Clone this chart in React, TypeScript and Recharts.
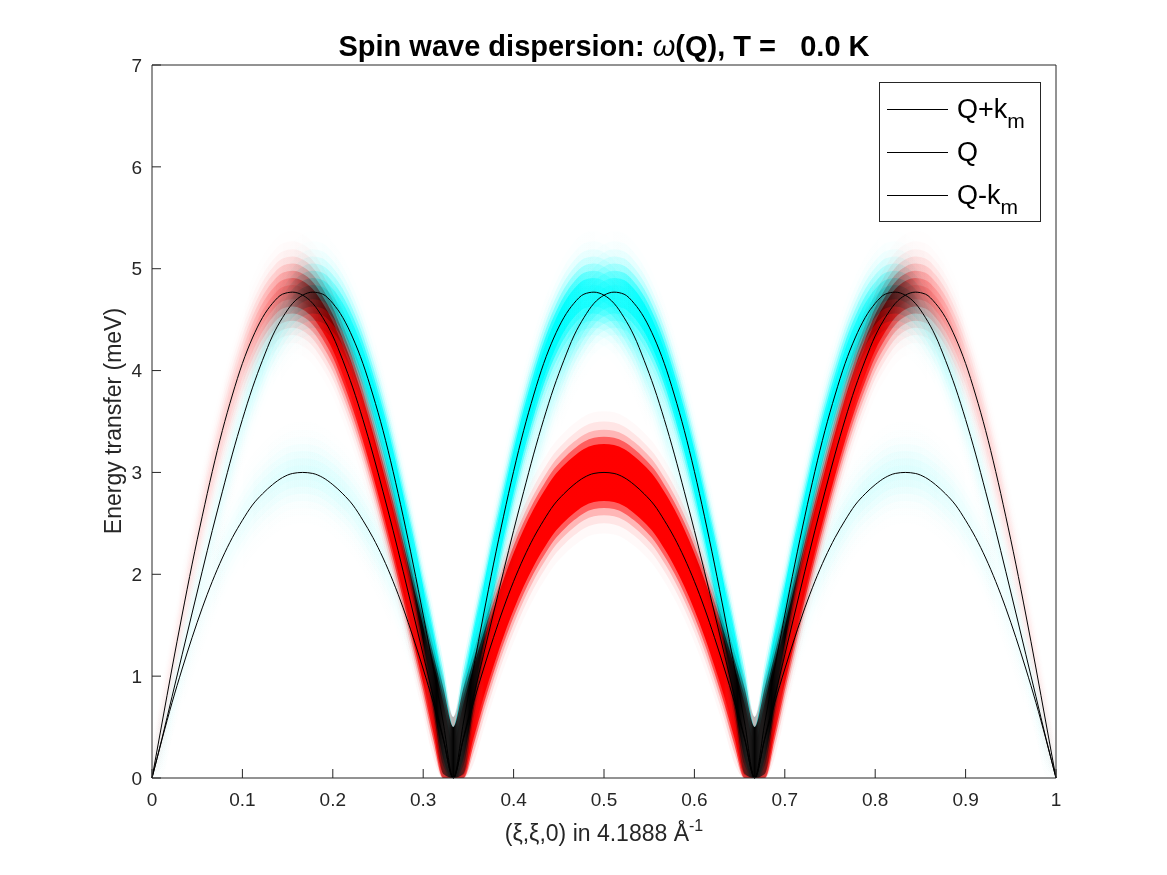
import React from "react"
import { ComposedChart, Area, Line, XAxis, YAxis } from "recharts"

const FONT = "'Liberation Sans', Arial, Helvetica, sans-serif"
const AXIS_COLOR = "#262626"

// Q along (xi, xi, 0), r.l.u.
const XI = [
	0, 0.0111, 0.0222, 0.0333, 0.0444, 0.0556, 0.0667, 0.0778, 0.0889, 0.1,
	0.1111, 0.1222, 0.1333, 0.1444, 0.1556, 0.1667, 0.1778, 0.1889, 0.2, 0.2111,
	0.2222, 0.2333, 0.2444, 0.2556, 0.2667, 0.2778, 0.2889, 0.3, 0.3111, 0.3222,
	0.3333, 0.3444, 0.3556, 0.3667, 0.3778, 0.3889, 0.4, 0.4111, 0.4222, 0.4333,
	0.4444, 0.4556, 0.4667, 0.4778, 0.4889, 0.5, 0.5111, 0.5222, 0.5333, 0.5444,
	0.5556, 0.5667, 0.5778, 0.5889, 0.6, 0.6111, 0.6222, 0.6333, 0.6444, 0.6556,
	0.6667, 0.6778, 0.6889, 0.7, 0.7111, 0.7222, 0.7333, 0.7444, 0.7556, 0.7667,
	0.7778, 0.7889, 0.8, 0.8111, 0.8222, 0.8333, 0.8444, 0.8556, 0.8667, 0.8778,
	0.8889, 0.9, 0.9111, 0.9222, 0.9333, 0.9444, 0.9556, 0.9667, 0.9778, 0.9889,
	1,
]

// energy (meV) of the three modes
const OMEGA_QPK = [
	0, 0.38, 0.74, 1.07, 1.38, 1.67, 1.93, 2.16, 2.36, 2.53,
	2.68, 2.79, 2.88, 2.95, 2.99, 3.0, 2.99, 2.95, 2.88, 2.79,
	2.68, 2.53, 2.36, 2.16, 1.93, 1.67, 1.38, 1.07, 0.74, 0.38,
	0, 0.39, 0.8, 1.21, 1.62, 2.03, 2.43, 2.81, 3.18, 3.52,
	3.83, 4.1, 4.34, 4.52, 4.66, 4.74, 4.77, 4.75, 4.66, 4.52,
	4.32, 4.07, 3.76, 3.41, 3.01, 2.57, 2.1, 1.6, 1.08, 0.54,
	0, 0.54, 1.08, 1.6, 2.1, 2.57, 3.01, 3.41, 3.76, 4.07,
	4.32, 4.52, 4.66, 4.75, 4.77, 4.74, 4.66, 4.52, 4.34, 4.1,
	3.83, 3.52, 3.18, 2.81, 2.43, 2.03, 1.62, 1.21, 0.8, 0.39,
	0,
]

const OMEGA_Q = [
	0, 0.54, 1.08, 1.6, 2.1, 2.57, 3.01, 3.41, 3.76, 4.07,
	4.32, 4.52, 4.66, 4.75, 4.77, 4.74, 4.66, 4.52, 4.34, 4.1,
	3.83, 3.52, 3.18, 2.81, 2.43, 2.03, 1.62, 1.21, 0.8, 0.39,
	0, 0.38, 0.74, 1.07, 1.38, 1.67, 1.93, 2.16, 2.36, 2.53,
	2.68, 2.79, 2.88, 2.95, 2.99, 3.0, 2.99, 2.95, 2.88, 2.79,
	2.68, 2.53, 2.36, 2.16, 1.93, 1.67, 1.38, 1.07, 0.74, 0.38,
	0, 0.39, 0.8, 1.21, 1.62, 2.03, 2.43, 2.81, 3.18, 3.52,
	3.83, 4.1, 4.34, 4.52, 4.66, 4.74, 4.77, 4.75, 4.66, 4.52,
	4.32, 4.07, 3.76, 3.41, 3.01, 2.57, 2.1, 1.6, 1.08, 0.54,
	0,
]

const OMEGA_QMK = [
	0, 0.39, 0.8, 1.21, 1.62, 2.03, 2.43, 2.81, 3.18, 3.52,
	3.83, 4.1, 4.34, 4.52, 4.66, 4.74, 4.77, 4.75, 4.66, 4.52,
	4.32, 4.07, 3.76, 3.41, 3.01, 2.57, 2.1, 1.6, 1.08, 0.54,
	0, 0.54, 1.08, 1.6, 2.1, 2.57, 3.01, 3.41, 3.76, 4.07,
	4.32, 4.52, 4.66, 4.75, 4.77, 4.74, 4.66, 4.52, 4.34, 4.1,
	3.83, 3.52, 3.18, 2.81, 2.43, 2.03, 1.62, 1.21, 0.8, 0.39,
	0, 0.38, 0.74, 1.07, 1.38, 1.67, 1.93, 2.16, 2.36, 2.53,
	2.68, 2.79, 2.88, 2.95, 2.99, 3.0, 2.99, 2.95, 2.88, 2.79,
	2.68, 2.53, 2.36, 2.16, 1.93, 1.67, 1.38, 1.07, 0.74, 0.38,
	0,
]

// peak intensity of each mode's colour band (1 = just saturated)
const BAND_XI = [
	0, 0.05, 0.1, 0.15, 0.2, 0.25, 0.28, 0.3, 0.315, 0.3333,
	0.352, 0.367, 0.385, 0.42, 0.45, 0.5, 0.55, 0.58, 0.615, 0.633,
	0.648, 0.6667, 0.685, 0.7, 0.72, 0.75, 0.8, 0.85, 0.9, 0.95,
	1,
]
const INTENSITY_Q = [
	0.05, 0.1, 0.22, 0.6, 1.3, 1.8, 2.3, 3.5, 9, 40,
	9, 4, 3.2, 3.2, 3.2, 3.2, 3.2, 3.2, 3.2, 4,
	9, 40, 9, 3.5, 2.3, 1.8, 1.3, 0.6, 0.22, 0.1,
	0.05,
]
const INTENSITY_QPK = [
	0.02, 0.04, 0.08, 0.12, 0.13, 0.1, 0.06, 0.05, 0.05, 0.05,
	0.05, 0.06, 0.07, 0.12, 0.25, 0.7, 1.3, 1.5, 1.8, 2.8,
	8, 40, 8, 2.8, 1.7, 1.4, 0.85, 0.3, 0.12, 0.06,
	0.03,
]
const INTENSITY_QMK = [
	0.03, 0.06, 0.12, 0.3, 0.85, 1.4, 1.7, 2.8, 8, 40,
	8, 2.8, 1.8, 1.5, 1.3, 0.7, 0.25, 0.12, 0.07, 0.06,
	0.05, 0.05, 0.05, 0.05, 0.06, 0.1, 0.13, 0.12, 0.08, 0.04,
	0.02,
]

const X_TICKS = [0, 0.1, 0.2, 0.3, 0.4, 0.5, 0.6, 0.7, 0.8, 0.9, 1]
const Y_TICKS = [0, 1, 2, 3, 4, 5, 6, 7]

const LEGEND = [
	{ base: "Q+k", sub: "m" },
	{ base: "Q", sub: "" },
	{ base: "Q-k", sub: "m" },
]

const rows = XI.map((xi, i) => ({ xi, qpk: OMEGA_QPK[i], q: OMEGA_Q[i], qmk: OMEGA_QMK[i] }))

const MODES = [
	{ key: "q", color: "#ff0000", intensity: INTENSITY_Q },
	{ key: "qpk", color: "#00ffff", intensity: INTENSITY_QPK },
	{ key: "qmk", color: "#00ffff", intensity: INTENSITY_QMK },
]

// gaussian energy broadening, drawn as nested range areas
const SIGMA = 0.175
const RINGS = [0.6, 0.5, 0.42, 0.35, 0.28, 0.21, 0.14, 0.07]
const RING_MID = [0.55, 0.46, 0.385, 0.315, 0.245, 0.175, 0.105, 0.035]

const level = (peak: number, e: number) => Math.min(1, peak * Math.exp(-(e * e) / (2 * SIGMA * SIGMA)))

function ringAlphas(peak: number) {
	let prev = 0
	return RING_MID.map((e) => {
		const t = level(peak, e)
		const a = prev >= 0.999 ? 0 : Math.max(0, 1 - (1 - t) / (1 - prev))
		prev = Math.max(prev, t)
		return a
	})
}

const GRADIENTS = MODES.flatMap((m) => {
	const perStop = m.intensity.map(ringAlphas)
	return RINGS.map((half, k) => ({
		id: `band-${m.key}-${k}`,
		key: m.key,
		half,
		color: m.color,
		opacity: perStop.map((a) => a[k]),
	}))
})

export default function App() {
	return (
		<div style={{ position: "absolute", left: 0, top: 0, width: 1167, height: 875, background: "#fff", fontFamily: FONT }}>
			<style>{`.band { mix-blend-mode: multiply; }`}</style>
			<ComposedChart width={1167} height={875} data={rows} margin={{ top: 64, right: 110, bottom: 67, left: 92 }}>
				<defs>
					{GRADIENTS.map((g) => (
						<linearGradient key={g.id} id={g.id} x1="0" y1="0" x2="1" y2="0">
							{BAND_XI.map((xi, i) => (
								<stop key={i} offset={xi} stopColor={g.color} stopOpacity={g.opacity[i]} />
							))}
						</linearGradient>
					))}
				</defs>
				<XAxis
					dataKey="xi"
					type="number"
					domain={[0, 1]}
					ticks={X_TICKS}
					interval={0}
					height={30}
					tickSize={-9}
					tickMargin={24}
					stroke={AXIS_COLOR}
					tickFormatter={(v) => String(v)}
					tick={{ fill: AXIS_COLOR, fontSize: 19, fontFamily: FONT }}
				/>
				<XAxis xAxisId="top" orientation="top" dataKey="xi" type="number" domain={[0, 1]} ticks={X_TICKS} interval={0} height={1} tickSize={-9} tick={false} stroke={AXIS_COLOR} />
				<YAxis
					type="number"
					domain={[0, 7]}
					ticks={Y_TICKS}
					interval={0}
					width={60}
					tickSize={-9}
					tickMargin={19}
					stroke={AXIS_COLOR}
					tick={{ fill: AXIS_COLOR, fontSize: 19, fontFamily: FONT }}
				/>
				<YAxis yAxisId="right" orientation="right" type="number" domain={[0, 7]} ticks={Y_TICKS} interval={0} width={1} tickSize={-9} tick={false} stroke={AXIS_COLOR} />

				{GRADIENTS.map((g) => (
					<Area
						key={g.id}
						className="band"
						type="monotone"
						dataKey={(d: any) => [Math.max(0, d[g.key] - g.half), d[g.key] + g.half]}
						stroke="none"
						fill={`url(#${g.id})`}
						fillOpacity={1}
						dot={false}
						activeDot={false}
						isAnimationActive={false}
					/>
				))}

				<Line type="monotone" dataKey="qpk" stroke="#000" strokeWidth={1} dot={false} activeDot={false} isAnimationActive={false} />
				<Line type="monotone" dataKey="q" stroke="#000" strokeWidth={1} dot={false} activeDot={false} isAnimationActive={false} />
				<Line type="monotone" dataKey="qmk" stroke="#000" strokeWidth={1} dot={false} activeDot={false} isAnimationActive={false} />
			</ComposedChart>

			<div style={{ position: "absolute", left: 152, width: 904, top: 32, textAlign: "center", fontSize: 29, lineHeight: 1, fontWeight: "bold", color: "#000", whiteSpace: "pre" }}>
				Spin wave dispersion: <span style={{ fontWeight: "normal", fontStyle: "italic" }}>ω</span>(Q), T =   0.0 K
			</div>

			<div style={{ position: "absolute", left: 152, width: 904, top: 822, textAlign: "center", fontSize: 23, lineHeight: 1, color: AXIS_COLOR, whiteSpace: "pre" }}>
				(ξ,ξ,0) in 4.1888 Å<span style={{ fontSize: 16, position: "relative", top: -10 }}>-1</span>
			</div>

			<div style={{ position: "absolute", left: 113, top: 421, transform: "translate(-50%, -50%) rotate(-90deg)", fontSize: 23, lineHeight: 1, color: AXIS_COLOR, whiteSpace: "nowrap" }}>
				Energy transfer (meV)
			</div>

			<div style={{ position: "absolute", left: 879, top: 82, width: 160, height: 138, border: `1px solid ${AXIS_COLOR}`, background: "#fff" }}>
				{LEGEND.map((item, i) => (
					<div key={item.base} style={{ position: "absolute", left: 0, top: 6 + i * 43, height: 40, display: "flex", alignItems: "center" }}>
						<div style={{ marginLeft: 7, width: 61, height: 0, borderTop: "1px solid #000" }} />
						<span style={{ marginLeft: 9, fontSize: 27, lineHeight: 1, color: "#000", whiteSpace: "nowrap" }}>
							{item.base}
							{item.sub && <span style={{ fontSize: 21, position: "relative", top: 10 }}>{item.sub}</span>}
						</span>
					</div>
				))}
			</div>
		</div>
	)
}
